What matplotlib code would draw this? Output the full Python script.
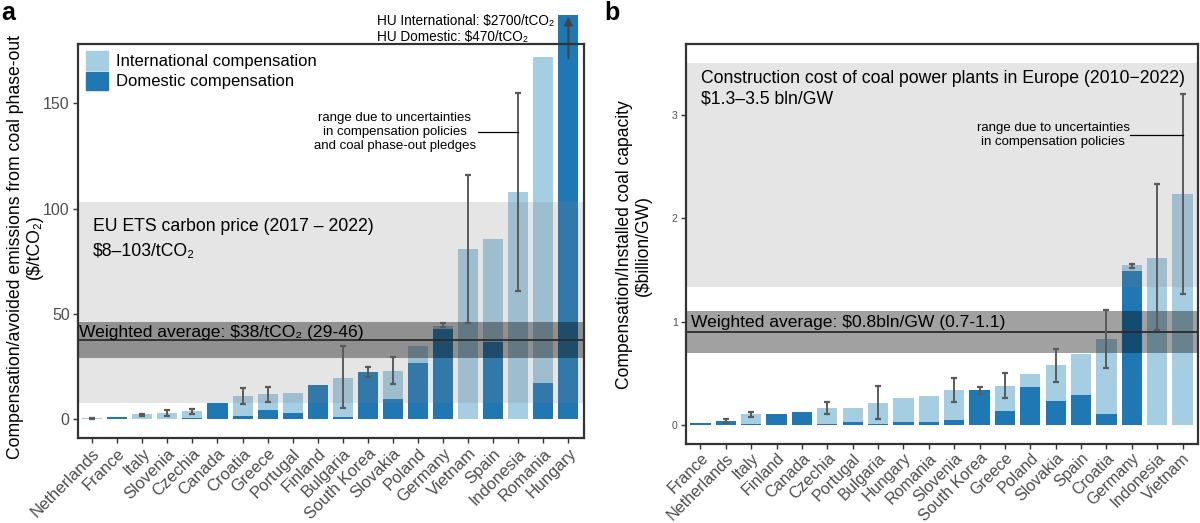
import numpy as np
import matplotlib
matplotlib.use("Agg")
import matplotlib.pyplot as plt
from matplotlib.patches import Patch

plt.rcParams['font.family'] = ['Liberation Sans', 'DejaVu Sans']

# Panel a: compensation per avoided emissions ($/tCO2)
countries_a = ["Netherlands", "France", "Italy", "Slovenia", "Czechia", "Canada", "Croatia",
               "Greece", "Portugal", "Finland", "Bulgaria", "South Korea", "Slovakia", "Poland",
               "Germany", "Vietnam", "Spain", "Indonesia", "Romania", "Hungary"]
intl_a = [0.6, 1.1, 2.4, 3.2, 4.0, 7.6, 11.0, 11.9, 12.3, 16.4, 19.8, 22.5, 23.0, 35.0,
          44.2, 81.0, 85.8, 107.8, 172.0, 2700.0]
dom_a = [0.3, 1.1, 0.3, 0.3, 0.5, 7.6, 1.6, 4.3, 2.8, 16.4, 1.3, 22.5, 9.5, 26.6,
         42.9, 0.0, 36.6, 0.0, 17.4, 470.0]
err_lo_a = [0.3, np.nan, 1.7, 1.7, 2.7, np.nan, 7.3, 8.0, np.nan, np.nan, 5.2, 20.0, 16.6, np.nan,
            44.0, 45.9, np.nan, 61.0, np.nan, np.nan]
err_hi_a = [0.7, np.nan, 2.6, 4.4, 4.9, np.nan, 15.0, 15.5, np.nan, np.nan, 34.8, 25.0, 29.4, np.nan,
            45.5, 116.0, np.nan, 155.0, np.nan, np.nan]
ets_range = (7.7, 103.0)
wavg_a = 37.5
wavg_a_range = (29.0, 46.0)
hu_cap = 192.0  # Hungary bar is cut here in the figure

# Panel b: compensation per installed capacity ($billion/GW)
countries_b = ["France", "Netherlands", "Italy", "Finland", "Canada", "Czechia", "Portugal",
               "Bulgaria", "Hungary", "Romania", "Slovenia", "South Korea", "Greece", "Poland",
               "Slovakia", "Spain", "Croatia", "Germany", "Indonesia", "Vietnam"]
intl_b = [0.023, 0.042, 0.11, 0.11, 0.13, 0.17, 0.17, 0.22, 0.264, 0.28, 0.345, 0.338, 0.38,
          0.493, 0.58, 0.69, 0.83, 1.546, 1.617, 2.23]
dom_b = [0.023, 0.042, 0.016, 0.11, 0.13, 0.016, 0.035, 0.016, 0.035, 0.03, 0.048, 0.338, 0.135,
         0.37, 0.235, 0.296, 0.113, 1.49, 0.0, 0.0]
err_lo_b = [np.nan, 0.02, 0.08, np.nan, np.nan, 0.11, np.nan, 0.06, np.nan, np.nan, 0.225, 0.305,
            0.26, np.nan, 0.42, np.nan, 0.55, 1.52, 0.918, 1.27]
err_hi_b = [np.nan, 0.065, 0.13, np.nan, np.nan, 0.225, np.nan, 0.38, np.nan, np.nan, 0.457, 0.37,
            0.505, np.nan, 0.74, np.nan, 1.11, 1.555, 2.325, 3.195]
constr_range = (1.34, 3.5)
wavg_b = 0.9
wavg_b_range = (0.7, 1.1)

light = "#a6cee3"
dark = "#1f78b4"
tick_grey = "#4d4d4d"
err_col = "#5a5a5a"


def style_box(ax):
    for s in ax.spines.values():
        s.set_linewidth(1.6)
        s.set_color("#333333")
        s.set_zorder(10)


def draw_panel(ax, countries, intl, dom, lo, hi, band, wavg, wrange, cap=None):
    x = np.arange(len(countries))
    intl = np.array(intl)
    dom = np.array(dom)
    if cap is not None:
        intl = np.minimum(intl, cap)
        dom = np.minimum(dom, cap)
    ax.bar(x, intl, width=0.8, color=light, zorder=2, clip_on=False)
    ax.bar(x, dom, width=0.8, color=dark, zorder=2.1, clip_on=False)
    ax.axhspan(band[0], band[1], color="#7f7f7f", alpha=0.2, lw=0, zorder=3)
    ax.axhspan(wrange[0], wrange[1], color="black", alpha=0.37, lw=0, zorder=3.1)
    ax.axhline(wavg, color="#2b2b2b", lw=1.3, zorder=4)
    lo = np.array(lo)
    hi = np.array(hi)
    m = ~np.isnan(lo)
    mid = (lo[m] + hi[m]) / 2
    ax.errorbar(x[m], mid, yerr=[mid - lo[m], hi[m] - mid], fmt="none", ecolor=err_col,
                elinewidth=1.4, capsize=2.0, capthick=1.6, zorder=5)
    ax.set_xticks(x)
    ax.set_xticklabels(countries, rotation=45, ha="right", va="top", rotation_mode="anchor",
                       color=tick_grey)
    ax.tick_params(axis="both", length=3.6, width=1, color="#333333")
    ax.set_xlim(-0.56, 19.61)
    style_box(ax)


fig = plt.figure(figsize=(12, 5.23), dpi=100)

# ---- panel a
ax1 = fig.add_axes([0.0651, 0.1625, 0.4213, 0.7534])
draw_panel(ax1, countries_a, intl_a, dom_a, err_lo_a, err_hi_a, ets_range, wavg_a, wavg_a_range, cap=hu_cap)
ax1.set_ylim(-8.9, 178.2)
ax1.set_yticks([0, 50, 100, 150])
ax1.tick_params(axis="y", labelsize=11.5, labelcolor=tick_grey, pad=2.5)
ax1.tick_params(axis="x", labelsize=12, pad=2)

ax1.text(0.0295, 91.3, "EU ETS carbon price (2017 \u2013 2022)", transform=ax1.get_yaxis_transform(),
         fontsize=12.7, va="center", ha="left", zorder=6)
ax1.text(0.0295, 79.5, "$8\u2013103/tCO\u2082", transform=ax1.get_yaxis_transform(),
         fontsize=12.7, va="center", ha="left", zorder=6)
ax1.text(0.002, 39.0, "Weighted average: $38/tCO\u2082 (29-46)", transform=ax1.get_yaxis_transform(),
         fontsize=12.6, va="baseline", ha="left", zorder=6)

ax1.text(12.07, 136.5, "range due to uncertainties\nin compensation policies\nand coal phase-out pledges",
         fontsize=9.5, ha="center", va="center", linespacing=1.25, zorder=6)
ax1.plot([15.41, 17.0], [136.6, 136.6], color="black", lw=0.9, zorder=6)

ax1.text(11.36, 187.0, "HU International: $2700/tCO\u2082", fontsize=9.8, ha="left", va="baseline",
         zorder=1, clip_on=False)
ax1.text(11.36, 179.8, "HU Domestic: $470/tCO\u2082", fontsize=9.8, ha="left", va="baseline",
         zorder=1, clip_on=False)
ax1.annotate("", xy=(19, 192.5), xytext=(19, 170), annotation_clip=False,
             arrowprops=dict(arrowstyle="-|>", color="#444444", lw=1.5, mutation_scale=12), zorder=7)

ax1.legend(handles=[Patch(color=light, label="International compensation"),
                    Patch(color=dark, label="Domestic compensation")],
           loc="upper left", bbox_to_anchor=(0.0, 1.0), frameon=False, fontsize=12,
           handlelength=1.32, handleheight=1.32, handletextpad=0.5, borderpad=0,
           borderaxespad=0.45, labelspacing=0.1)

fig.text(25 / 1200, 1 - 247 / 523, "Compensation/avoided emissions from coal phase-out\n($/tCO\u2082)",
         rotation=90, ha="center", va="center", fontsize=12.7, linespacing=1.12)

# ---- panel b
ax2 = fig.add_axes([0.5718, 0.151, 0.4266, 0.7648])
draw_panel(ax2, countries_b, intl_b, dom_b, err_lo_b, err_hi_b, constr_range, wavg_b, wavg_b_range)
ax2.set_ylim(-0.18, 3.68)
ax2.set_yticks([0, 1, 2, 3])
ax2.tick_params(axis="y", labelsize=7.5, labelcolor=tick_grey, pad=2.5)
ax2.tick_params(axis="x", labelsize=11.6, pad=1)

ax2.text(0.0298, 3.35, "Construction cost of coal power plants in Europe (2010\u22122022)",
         transform=ax2.get_yaxis_transform(), fontsize=12.7, va="center", ha="left", zorder=6)
ax2.text(0.0298, 3.15, "$1.3\u20133.5 bln/GW", transform=ax2.get_yaxis_transform(),
         fontsize=12.7, va="center", ha="left", zorder=6)
ax2.text(0.0095, 0.95, "Weighted average: $0.8bln/GW (0.7-1.1)", transform=ax2.get_yaxis_transform(),
         fontsize=12.6, va="baseline", ha="left", zorder=6)
ax2.text(13.91, 2.80, "range due to uncertainties\nin compensation policies", fontsize=9.5,
         ha="center", va="center", linespacing=1.25, zorder=6)
ax2.plot([16.92, 19.0], [2.80, 2.80], color="black", lw=0.9, zorder=6)

fig.text(634 / 1200, 1 - 245 / 523, "Compensation/Installed coal capacity\n($billion/GW)",
         rotation=90, ha="center", va="center", fontsize=12.65, linespacing=1.12)

fig.text(0.001, 0.998, "a", fontsize=18, fontweight="bold", ha="left", va="top")
fig.text(0.504, 0.998, "b", fontsize=18, fontweight="bold", ha="left", va="top")

fig.savefig("out.png", dpi=100)
